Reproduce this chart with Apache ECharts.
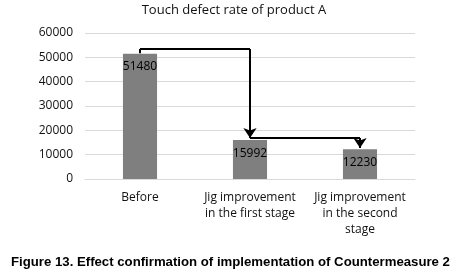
<!DOCTYPE html>
<html>
<head>
<meta charset="utf-8">
<script src="https://cdn.jsdelivr.net/npm/echarts@6/dist/echarts.min.js"></script>
<style>
  html, body { margin: 0; padding: 0; background: #fff; }
  #main { width: 468px; height: 277px; }
</style>
</head>
<body>
<div id="main"></div>
<script>
// 数据
var categories = ["Before", "Jig improvement\nin the first stage", "Jig improvement\nin the second\nstage"];
var defects = [51480, 15992, 12230];
var yTicks = [0, 60000, 10000]; // min, max, interval

// 箭头 (数据坐标: 类目索引, 数值)
var plainSegments = [
    [[0, 51700], [0, 53400]],
    [[0, 53400], [1, 53400]],
    [[1, 16800], [2, 16800]]
];
var arrowSegments = [
    [[1, 53400], [1, 16900]],
    [[2, 16800], [2, 12700]]
];

var myChart = echarts.init(document.getElementById('main'));
var font = "'Open Sans', sans-serif";

var option = {
    animation: false,
    title: [{
        text: "Touch defect rate of product A",
        left: 'center',
        top: -1,
        textStyle: { fontFamily: font, fontSize: 13, fontWeight: 'normal', color: '#111' }
    }, {
        text: "Figure 13. Effect confirmation of implementation of Countermeasure 2",
        left: 6,
        top: 251,
        textStyle: { fontFamily: "'Liberation Sans', sans-serif", fontSize: 13.2, fontWeight: 'bold', color: '#000' }
    }],
    grid: { left: 85, right: 53, top: 33, bottom: 98, containLabel: false },
    xAxis: {
        type: 'category',
        data: categories,
        axisLine: { show: true, lineStyle: { color: '#d9d9d9' } },
        axisTick: { show: false },
        axisLabel: {
            interval: 0,
            fontFamily: font,
            fontSize: 12,
            lineHeight: 16,
            color: '#111',
            margin: 11
        }
    },
    yAxis: {
        type: 'value',
        min: yTicks[0],
        max: yTicks[1],
        interval: yTicks[2],
        axisLine: { show: false },
        axisTick: { show: false },
        splitLine: { lineStyle: { color: '#d9d9d9' } },
        axisLabel: {
            fontFamily: font, fontSize: 12, color: '#111', margin: 12,
            formatter: function (v) { return String(v); }
        }
    },
    series: [{
        type: 'bar',
        data: defects,
        barWidth: '31%',
        itemStyle: { color: '#7f7f7f' },
        label: {
            show: true,
            position: 'insideTop',
            distance: 7,
            fontFamily: font,
            fontSize: 12,
            color: '#000'
        },
        z: 2
    }, {
        type: 'lines',
        coordinateSystem: 'cartesian2d',
        data: plainSegments.map(function (s) { return { coords: s }; }),
        symbol: 'none',
        lineStyle: { color: '#000', width: 2, opacity: 1 },
        z: 5
    }, {
        type: 'lines',
        coordinateSystem: 'cartesian2d',
        data: arrowSegments.map(function (s) { return { coords: s }; }),
        symbol: ['none', 'arrow'],
        symbolSize: 10,
        lineStyle: { color: '#000', width: 2, opacity: 1 },
        z: 5
    }]
};

myChart.setOption(option);
</script>
</body>
</html>
